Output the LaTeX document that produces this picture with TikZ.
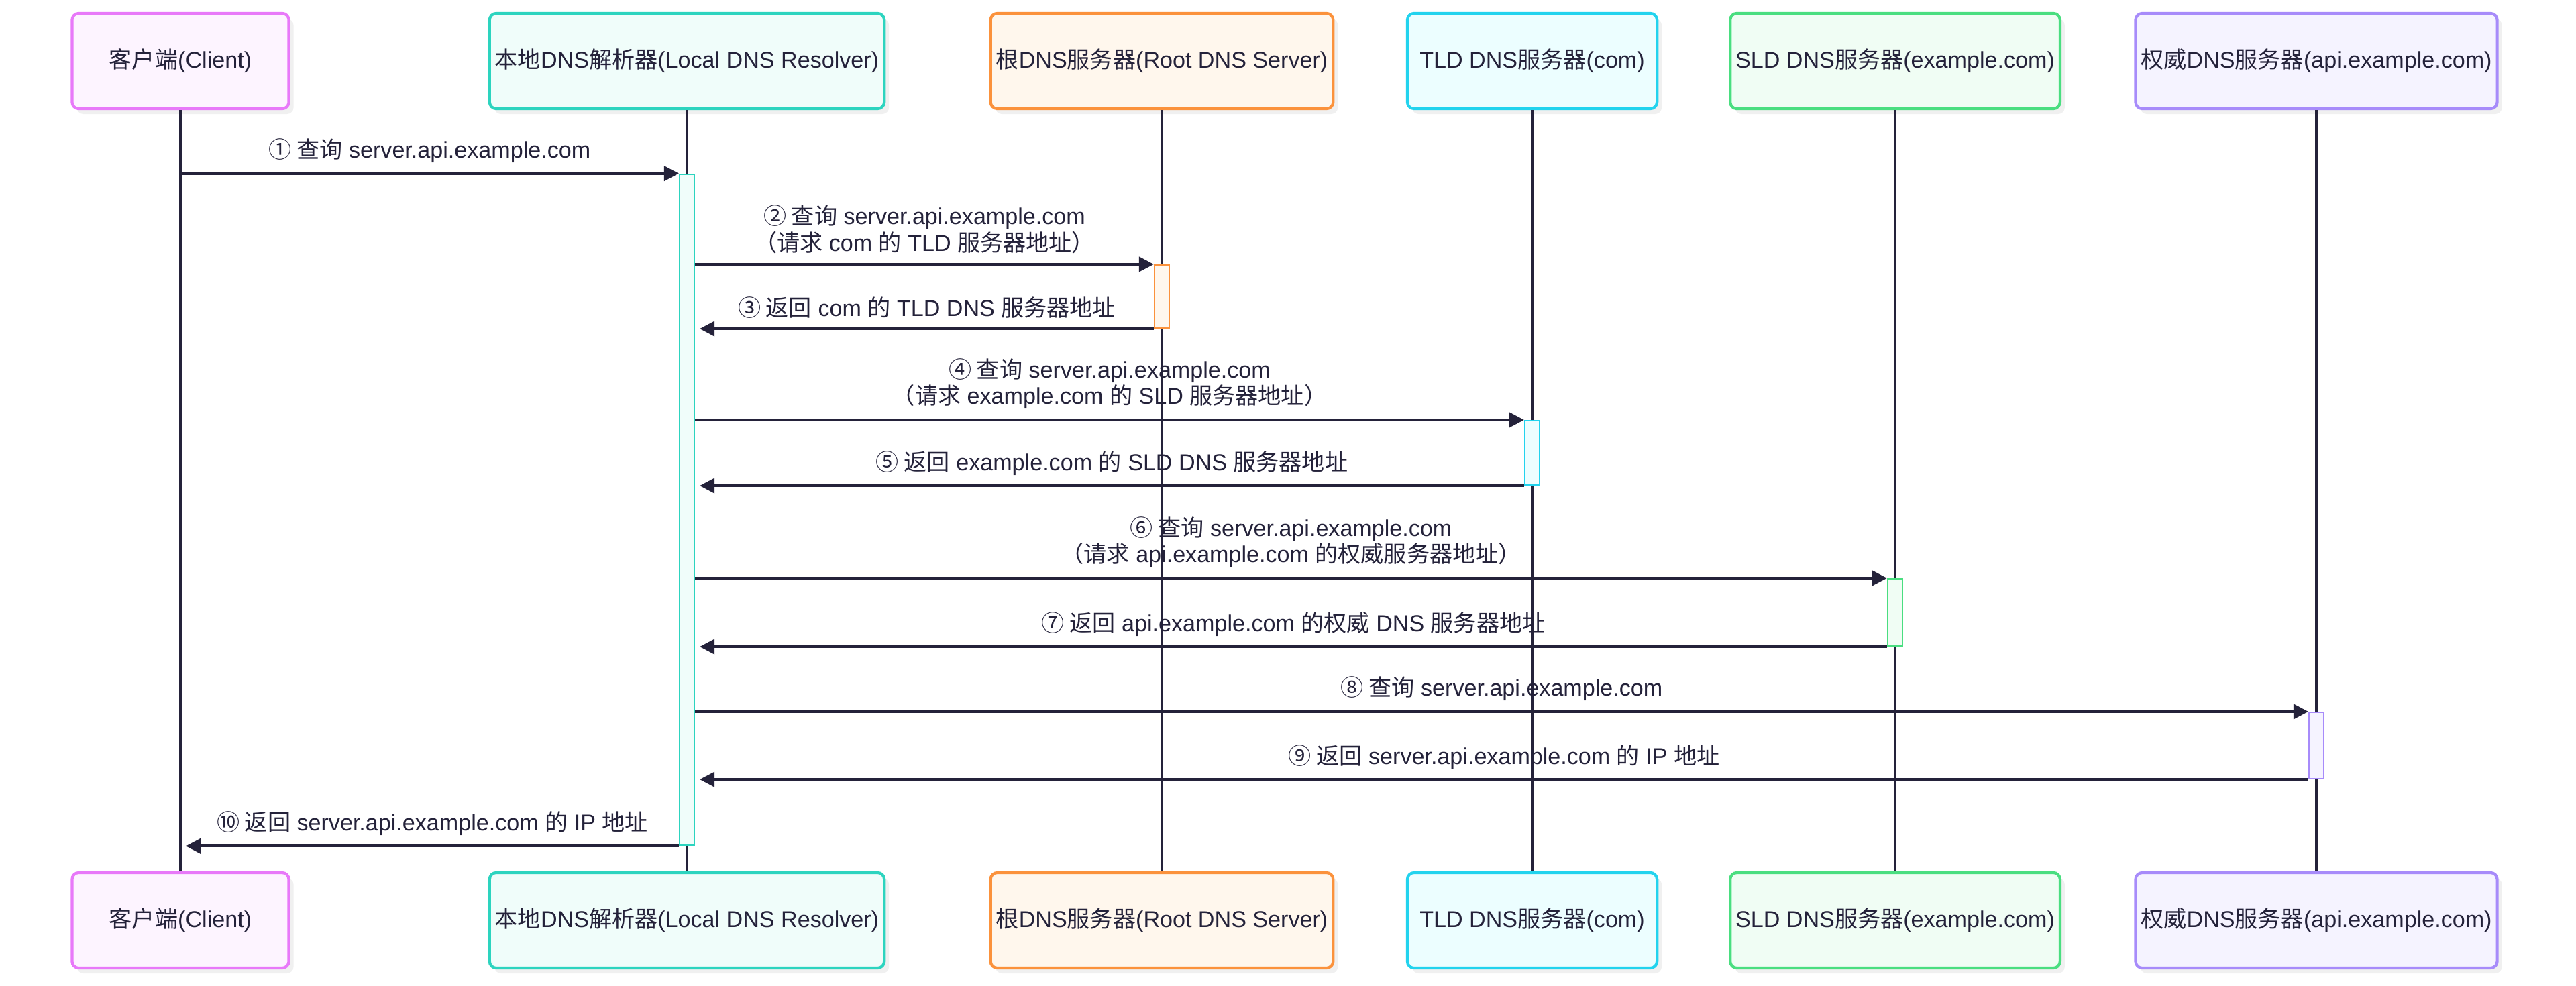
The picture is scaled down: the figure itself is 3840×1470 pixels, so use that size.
\documentclass[tikz,border=0pt]{standalone}
\usepackage{fontspec}
\setmainfont{Liberation Sans}
\newfontfamily\cjk{Noto Sans CJK SC}
\newcommand{\zh}[1]{{\cjk #1}}
\newcommand{\msgfont}{\fontsize{9.7pt}{10pt}\selectfont}
\usetikzlibrary{arrows.meta, positioning, shadows}
\definecolor{ink}{HTML}{24223A}
\definecolor{cliC}{HTML}{E879F9}
\definecolor{cliF}{HTML}{FDF4FF}
\definecolor{resC}{HTML}{2DD4BF}
\definecolor{resF}{HTML}{F0FDFA}
\definecolor{rootC}{HTML}{FB923C}
\definecolor{rootF}{HTML}{FFF7ED}
\definecolor{tldC}{HTML}{22D3EE}
\definecolor{tldF}{HTML}{ECFEFF}
\definecolor{sldC}{HTML}{4ADE80}
\definecolor{sldF}{HTML}{F0FDF4}
\definecolor{authC}{HTML}{A78BFA}
\definecolor{authF}{HTML}{F5F3FF}
\tikzset{
  actor/.style={
    rectangle, rounded corners=0.1cm, minimum width=3.23cm, minimum height=1.42cm,
    inner xsep=0.08cm, line width=1.2pt, text=ink, font=\msgfont,
    drop shadow={shadow xshift=0.07cm, shadow yshift=-0.08cm, fill=black!6, opacity=1}
  },
  bar/.style={rectangle, inner sep=0pt, minimum width=0.22cm, line width=0.6pt},
  life/.style={draw=ink, line width=1pt},
  msg/.style={-{Triangle[length=0.22cm, width=0.22cm]}, draw=ink, line width=1.1pt},
  msglabel/.style={above=0.14cm, font=\msgfont, text=ink, align=center, inner sep=0pt}
}

\begin{document}
\begin{tikzpicture}[x=0.01cm, y=-0.01cm]
\useasboundingbox (0,0) rectangle (3840,1470);

% Participants (top)
\node[actor, draw=cliC, fill=cliF] (cliT) at (269,91) {\zh{客户端}(Client)};
\node[actor, draw=resC, fill=resF] (resT) at (1024,91) {\zh{本地}DNS\zh{解析器}(Local DNS Resolver)};
\node[actor, draw=rootC, fill=rootF] (rootT) at (1732,91) {\zh{根}DNS\zh{服务器}(Root DNS Server)};
\node[actor, draw=tldC, fill=tldF, minimum width=3.72cm] (tldT) at (2284,91) {TLD DNS\zh{服务器}(com)};
\node[actor, draw=sldC, fill=sldF] (sldT) at (2825,91) {SLD DNS\zh{服务器}(example.com)};
\node[actor, draw=authC, fill=authF] (authT) at (3453,91) {\zh{权威}DNS\zh{服务器}(api.example.com)};

% Participants (bottom)
\node[actor, draw=cliC, fill=cliF] (cliB) at (269,1372) {\zh{客户端}(Client)};
\node[actor, draw=resC, fill=resF] (resB) at (1024,1372) {\zh{本地}DNS\zh{解析器}(Local DNS Resolver)};
\node[actor, draw=rootC, fill=rootF] (rootB) at (1732,1372) {\zh{根}DNS\zh{服务器}(Root DNS Server)};
\node[actor, draw=tldC, fill=tldF, minimum width=3.72cm] (tldB) at (2284,1372) {TLD DNS\zh{服务器}(com)};
\node[actor, draw=sldC, fill=sldF] (sldB) at (2825,1372) {SLD DNS\zh{服务器}(example.com)};
\node[actor, draw=authC, fill=authF] (authB) at (3453,1372) {\zh{权威}DNS\zh{服务器}(api.example.com)};

% Lifelines
\foreach \p in {cli,res,root,tld,sld,auth}
  \draw[life] (\p T.south) -- (\p B.north);

% Activation bars
\node[bar, draw=resC, fill=resF, minimum height=10cm] (resBar) at (1024,760) {};
\node[bar, draw=rootC, fill=rootF, minimum height=0.94cm] (rootBar) at (1732,442) {};
\node[bar, draw=tldC, fill=tldF, minimum height=0.96cm] (tldBar) at (2284,675) {};
\node[bar, draw=sldC, fill=sldF, minimum height=1cm] (sldBar) at (2825,913) {};
\node[bar, draw=authC, fill=authF, minimum height=0.99cm] (authBar) at (3453,1111.5) {};

% Messages
\draw[msg] (cliT.south |- resBar.north) -- node[msglabel] {\zh{① 查询} server.api.example.com} (resBar.north west);
\draw[msg] (resBar.east |- rootBar.north) -- node[msglabel] {\zh{② 查询} server.api.example.com\\\zh{（请求} com \zh{的} TLD \zh{服务器地址）}} (rootBar.north west);
\draw[msg] (rootBar.south west) -- node[msglabel] {\zh{③ 返回} com \zh{的} TLD DNS \zh{服务器地址}} ([xshift=0.07cm]resBar.east |- rootBar.south);
\draw[msg] (resBar.east |- tldBar.north) -- node[msglabel] {\zh{④ 查询} server.api.example.com\\\zh{（请求} example.com \zh{的} SLD \zh{服务器地址）}} (tldBar.north west);
\draw[msg] (tldBar.south west) -- node[msglabel] {\zh{⑤ 返回} example.com \zh{的} SLD DNS \zh{服务器地址}} ([xshift=0.07cm]resBar.east |- tldBar.south);
\draw[msg] (resBar.east |- sldBar.north) -- node[msglabel] {\zh{⑥ 查询} server.api.example.com\\\zh{（请求} api.example.com \zh{的权威服务器地址）}} (sldBar.north west);
\draw[msg] (sldBar.south west) -- node[msglabel] {\zh{⑦ 返回} api.example.com \zh{的权威} DNS \zh{服务器地址}} ([xshift=0.07cm]resBar.east |- sldBar.south);
\draw[msg] (resBar.east |- authBar.north) -- node[msglabel] {\zh{⑧ 查询} server.api.example.com} (authBar.north west);
\draw[msg] (authBar.south west) -- node[msglabel] {\zh{⑨ 返回} server.api.example.com \zh{的} IP \zh{地址}} ([xshift=0.07cm]resBar.east |- authBar.south);
\draw[msg] (resBar.south west) -- node[msglabel] {\zh{⑩ 返回} server.api.example.com \zh{的} IP \zh{地址}} ([xshift=0.08cm]cliT.south |- resBar.south);

\end{tikzpicture}
\end{document}
